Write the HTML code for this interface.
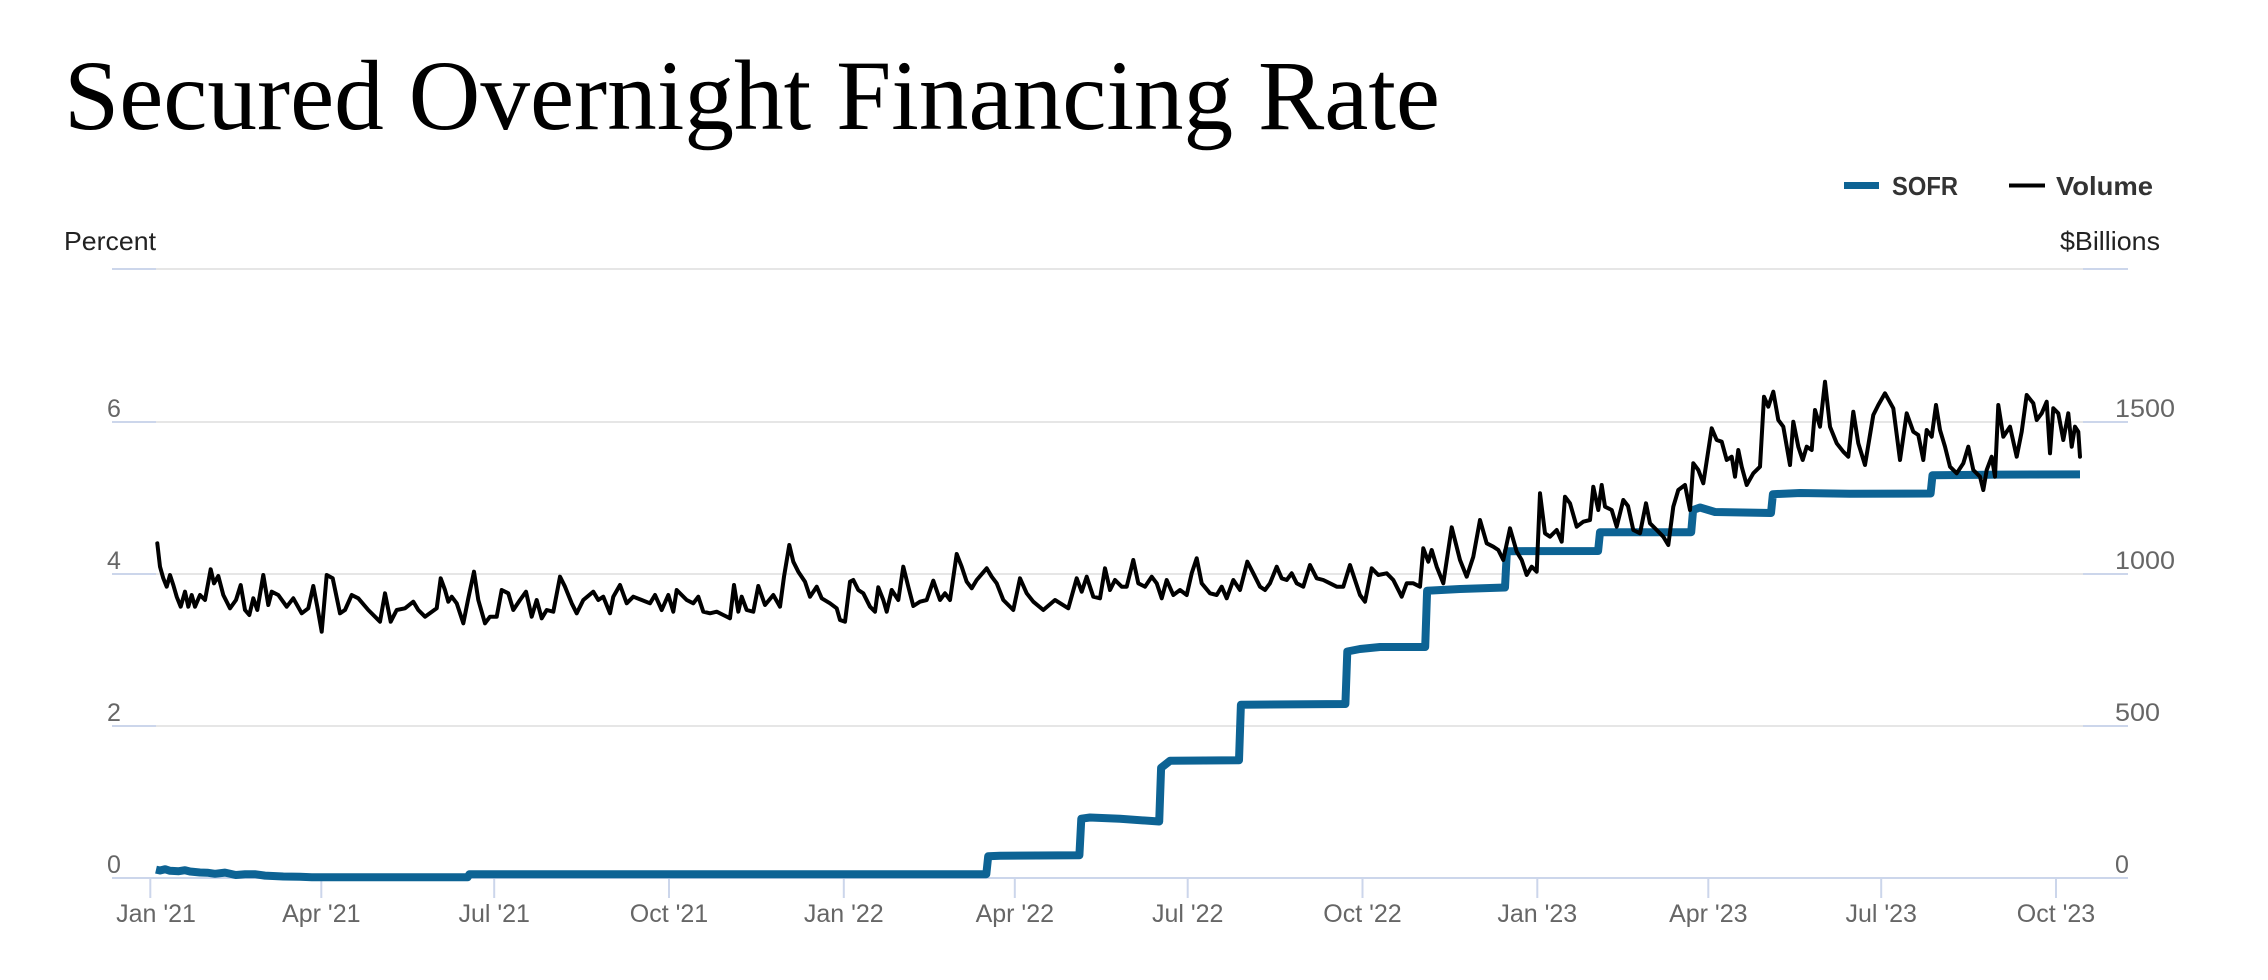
<!DOCTYPE html>
<html>
<head>
<meta charset="utf-8">
<style>
  html, body { margin: 0; padding: 0; background: #ffffff; }
  svg { display: block; }
</style>
</head>
<body>
<svg width="2268" height="980" viewBox="0 0 2268 980" xmlns="http://www.w3.org/2000/svg">
  <rect x="0" y="0" width="2268" height="980" fill="#ffffff"/>

  <!-- Title -->
  <text x="64" y="129" font-family="'Liberation Serif', serif" font-size="100" fill="#000" textLength="1376" lengthAdjust="spacingAndGlyphs">Secured Overnight Financing Rate</text>

  <!-- Legend -->
  <rect x="1844" y="182" width="35" height="7" fill="#0d6394"/>
  <text x="1892" y="195" font-family="'Liberation Sans', sans-serif" font-size="26" font-weight="bold" fill="#333333" textLength="66" lengthAdjust="spacingAndGlyphs">SOFR</text>
  <line x1="2009" y1="185.5" x2="2045" y2="185.5" stroke="#000" stroke-width="4"/>
  <text x="2056" y="195" font-family="'Liberation Sans', sans-serif" font-size="26" font-weight="bold" fill="#333333" textLength="97" lengthAdjust="spacingAndGlyphs">Volume</text>

  <!-- Axis titles -->
  <text x="64" y="250" font-family="'Liberation Sans', sans-serif" font-size="26" fill="#222" textLength="92" lengthAdjust="spacingAndGlyphs">Percent</text>
  <text x="2060" y="250" font-family="'Liberation Sans', sans-serif" font-size="26" fill="#222" textLength="100" lengthAdjust="spacingAndGlyphs">$Billions</text>

  <!-- Gridlines -->
  <g stroke="#e6e6e6" stroke-width="2">
    <line x1="112" y1="269" x2="2128" y2="269"/>
    <line x1="112" y1="422" x2="2128" y2="422"/>
    <line x1="112" y1="574" x2="2128" y2="574"/>
    <line x1="112" y1="726" x2="2128" y2="726"/>
  </g>
  <g stroke="#ccd6eb" stroke-width="2">
    <line x1="112" y1="269" x2="156" y2="269"/>
    <line x1="112" y1="422" x2="156" y2="422"/>
    <line x1="112" y1="574" x2="156" y2="574"/>
    <line x1="112" y1="726" x2="156" y2="726"/>
    <line x1="2083" y1="269" x2="2128" y2="269"/>
    <line x1="2083" y1="422" x2="2128" y2="422"/>
    <line x1="2083" y1="574" x2="2128" y2="574"/>
    <line x1="2083" y1="726" x2="2128" y2="726"/>
    <line x1="112" y1="878" x2="2128" y2="878"/>
  </g>
  <g stroke="#ccd6eb" stroke-width="2">
    <line x1="150.3" y1="878" x2="150.3" y2="898"/>
    <line x1="321.3" y1="878" x2="321.3" y2="898"/>
    <line x1="494.2" y1="878" x2="494.2" y2="898"/>
    <line x1="669" y1="878" x2="669" y2="898"/>
    <line x1="843.8" y1="878" x2="843.8" y2="898"/>
    <line x1="1014.8" y1="878" x2="1014.8" y2="898"/>
    <line x1="1187.7" y1="878" x2="1187.7" y2="898"/>
    <line x1="1362.5" y1="878" x2="1362.5" y2="898"/>
    <line x1="1537.3" y1="878" x2="1537.3" y2="898"/>
    <line x1="1708.3" y1="878" x2="1708.3" y2="898"/>
    <line x1="1881.2" y1="878" x2="1881.2" y2="898"/>
    <line x1="2056" y1="878" x2="2056" y2="898"/>
  </g>

  <g font-family="'Liberation Sans', sans-serif" font-size="25" fill="#666666">
    <text x="107" y="417">6</text>
    <text x="107" y="569">4</text>
    <text x="107" y="721">2</text>
    <text x="107" y="873">0</text>
  </g>
  <g font-family="'Liberation Sans', sans-serif" font-size="25" fill="#666666">
    <text x="2115" y="417" textLength="60" lengthAdjust="spacingAndGlyphs">1500</text>
    <text x="2115" y="569" textLength="60" lengthAdjust="spacingAndGlyphs">1000</text>
    <text x="2115" y="721" textLength="45" lengthAdjust="spacingAndGlyphs">500</text>
    <text x="2115" y="873">0</text>
  </g>
  <g font-family="'Liberation Sans', sans-serif" font-size="25" fill="#666666" text-anchor="middle">
    <text x="156" y="922">Jan '21</text>
    <text x="321.3" y="922">Apr '21</text>
    <text x="494.2" y="922">Jul '21</text>
    <text x="669" y="922">Oct '21</text>
    <text x="843.8" y="922">Jan '22</text>
    <text x="1014.8" y="922">Apr '22</text>
    <text x="1187.7" y="922">Jul '22</text>
    <text x="1362.5" y="922">Oct '22</text>
    <text x="1537.3" y="922">Jan '23</text>
    <text x="1708.3" y="922">Apr '23</text>
    <text x="1881.2" y="922">Jul '23</text>
    <text x="2056" y="922">Oct '23</text>
  </g>

  <path fill="none" stroke="#0d6394" stroke-width="8" stroke-linejoin="round" stroke-linecap="butt"
    d="M156,869.6 L160,870.5 L165,869.2 L170,870.8 L178.8,871.2 L185,870.2 L190,871.5 L200,872.5 L207.3,872.7 L215,873.8 L225,872.6 L235.8,875 L245,874.3 L254.8,874.2 L265,875.6 L283.3,876.5 L300,876.8 L311.8,877.2 L467.6,877.2 L469.5,874.2 L986.3,874.2 L988.2,856.3 L1000,855.7 L1079.4,855.2 L1081.3,818.7 L1090,817.5 L1120,818.8 L1159.2,821.5 L1161.1,767.8 L1170,760.8 L1239,760.2 L1240.9,704.7 L1345.4,704 L1347.3,651.5 L1360,649 L1380,647 L1425.2,647 L1427.1,590.7 L1460,589 L1505,587.5 L1506.9,551.2 L1598.1,551 L1600,532.2 L1691.2,532.2 L1693.1,510 L1700,507.5 L1715,512 L1771,513 L1772.9,494.2 L1800,493 L1850,493.8 L1930.6,493.5 L1932.5,475.2 L2000,474.6 L2080,474.4"/>

  <path fill="none" stroke="#000000" stroke-width="4" stroke-linejoin="round" stroke-linecap="round"
    d="M157.3,543.3 L160,566.7 L163.3,578.3 L166.7,586.7 L170,575 L173.3,585 L176.7,596.7 L180.7,606.7 L185,591.7 L188.3,606.7 L191.7,595 L195,606.7 L200,595 L205,600 L210.7,569.3 L214,583.3 L218.3,576 L223.3,595 L230,608.3 L236,600 L240.7,585 L245,610 L249.3,615 L253.3,598.3 L257.3,610 L263.3,575 L268.3,605 L271.7,591.7 L278.3,595 L286.7,606.7 L293.3,598.3 L301.7,613.3 L308.3,608.3 L313.3,586 L317.3,606.7 L321.7,631.7 L326.7,575 L332.7,578.3 L340,613.3 L345,610 L351.7,595 L358.3,598.3 L368.3,610 L380,621.7 L385,593.3 L390.7,621.7 L396.7,610 L405,608.3 L413.3,601.7 L418.3,610 L425,616.7 L436.7,608.3 L440.7,578.3 L445,590 L448.3,601.7 L451.7,596.7 L456.7,603.3 L463.3,623.3 L468.3,598.3 L474,571.7 L478.3,600 L485,623.3 L490,616.7 L496.7,616.7 L501.7,590 L508.3,593.3 L513.3,610 L520,600 L526,591.7 L531.7,616.7 L536.7,600 L541.7,618.3 L546.7,610 L553.3,611.7 L560,576.7 L565,586.7 L571.7,603.3 L576.7,613.3 L583.3,600 L593.3,591.7 L598.3,600 L603.3,596.7 L610,613.3 L613.3,596.7 L620,585 L626.7,603.3 L633.3,596.7 L641.7,600 L650,603.3 L655,595 L661.7,610 L668.3,595 L673.3,611.7 L676.7,590 L686.7,600 L693.3,603.3 L698.3,596.7 L703.3,611.7 L710,613.3 L716.7,611.7 L723.3,615 L730,618.3 L734,585 L738.3,611.7 L741.7,596.7 L746.7,610 L753.3,611.7 L758.3,586 L765,605 L773.3,595 L780,606.7 L784,576.7 L789.3,545 L793.3,561.7 L798.3,571.7 L805,581.7 L810,596.7 L816.7,586.7 L821.7,598.3 L830,603.3 L836.7,608.3 L840,620 L845,621.7 L850,581.7 L853.3,580 L858.3,590 L863.3,593.3 L870,606.7 L875,611.7 L878.3,587.3 L883.3,600 L886.7,611.7 L891.7,590 L898.3,600 L903.3,566.7 L908.3,586.7 L913.3,606 L920,601.7 L926.7,600 L933.3,580.7 L940,600 L945,593.3 L950,600 L956.7,554 L961.7,566.7 L966.7,581.7 L971.7,588.3 L976.7,580 L986.7,568.3 L991.7,576.7 L996.7,583.3 L1003.3,600 L1013.3,610 L1020,578.3 L1026.7,593.3 L1033.3,601.7 L1043.3,610 L1055,600 L1068.3,608.3 L1076.7,578.3 L1081.7,591.7 L1086.7,576.7 L1093.3,596.7 L1100,598.3 L1105,568.3 L1110,590 L1115,580 L1121.7,586.7 L1126.7,586.7 L1133.3,560 L1138.3,583.3 L1145,586.7 L1151.7,576.7 L1156.7,583.3 L1161.7,598.3 L1166.7,580 L1173.3,595 L1180,590 L1186.7,595 L1191.7,573.3 L1196.7,558.3 L1201.7,583.3 L1210,593.3 L1216.7,595 L1221.7,586.7 L1226.7,598.3 L1233.3,580 L1240,590 L1247.3,561.7 L1253.3,573.3 L1260,586.7 L1265,590 L1270,583.3 L1276.7,566.7 L1281.7,578.3 L1286.7,580 L1291.7,573.3 L1296.7,583.3 L1303.3,586.7 L1310,565 L1316.7,578.3 L1323.3,580 L1330,583.3 L1336.7,586.7 L1343.3,586.7 L1350,565 L1355,580 L1360,595 L1365,601.7 L1371.7,568.3 L1378.3,575 L1386.7,573.3 L1393.3,580 L1401.7,596.7 L1406.7,583.3 L1413.3,583.3 L1420,586.7 L1423.3,548.3 L1428.3,561.7 L1431.7,550 L1436.7,566.7 L1443.3,583.3 L1451.7,527.3 L1460,560 L1466.7,576.7 L1473.3,556.7 L1480,520 L1486.7,543.3 L1493.3,546.7 L1498.3,550 L1503.3,560 L1510,528.3 L1516.7,551.7 L1521.7,560 L1526.7,575 L1531.7,566.7 L1536.7,571.7 L1540,493.3 L1545,533.3 L1550,536.7 L1556.7,530 L1561.7,541.7 L1565,496.7 L1570,503.3 L1576.7,526.7 L1583.3,521.7 L1590,520 L1593.3,486.7 L1598.3,510 L1601.7,485 L1605,506.7 L1611.7,510 L1616.7,526.7 L1623.3,500 L1628,506 L1633.3,530 L1640,533.3 L1646,503.3 L1650,523.3 L1656.7,530 L1663.3,536.7 L1668.3,545 L1673.3,506.7 L1678.3,490 L1685,485 L1690,510 L1693.3,463.3 L1698.3,470 L1703.3,483.3 L1711.7,428.3 L1716.7,440 L1721.7,441.7 L1726.7,460 L1731.7,456.7 L1735,476.7 L1738.3,450 L1741.7,466.7 L1746.7,485 L1753.3,473.3 L1760,466.7 L1764,396.7 L1768.3,406.7 L1773.3,391.7 L1778.3,420 L1783.3,426.7 L1790,465 L1793.3,421.7 L1798.3,446.7 L1802.7,460 L1806.7,446.7 L1811.7,450 L1815,410 L1820,426.7 L1825,381.7 L1830,426.7 L1836.7,443.3 L1843.3,451.7 L1848.3,456.7 L1853.3,411.7 L1858.3,443.3 L1865,465 L1873.3,415 L1878.3,405 L1885,393.3 L1893.3,408.3 L1900,460 L1906.7,413.3 L1913.3,431.7 L1918.3,435 L1923.3,460 L1926.7,430 L1931.7,436.7 L1936,405 L1940,430 L1945,446.7 L1950,466.7 L1956.7,473.3 L1963.3,463.3 L1968.3,446.7 L1973.3,470 L1980,476.7 L1983.3,490 L1986.7,470 L1991.7,456.7 L1995,476.7 L1998.3,405 L2003.3,436.7 L2010,426.7 L2016.7,456.7 L2021.7,431.7 L2026.7,395 L2033.3,403.3 L2036.7,420 L2041.7,413.3 L2046.7,401.7 L2050,453.3 L2053.3,408.3 L2058.3,413.3 L2063.3,440 L2068.3,413.3 L2071.7,446.7 L2075,426.7 L2078.3,431.7 L2080,456.7"/>
</svg>
</body>
</html>
